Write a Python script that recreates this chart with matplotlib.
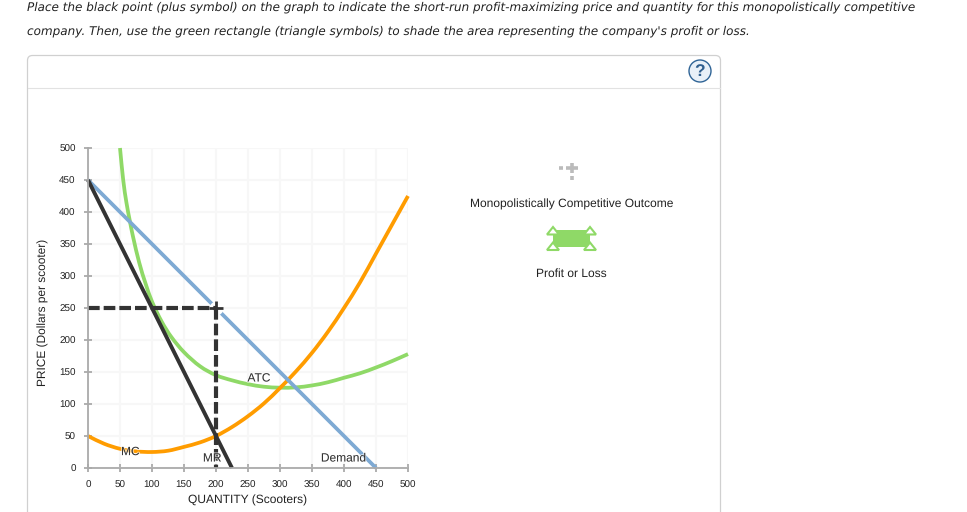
import matplotlib
matplotlib.use('Agg')
import matplotlib.pyplot as plt
import matplotlib.patheffects as pe
from matplotlib.patches import Rectangle, FancyBboxPatch, Circle, Polygon, PathPatch
from matplotlib.path import Path

W, H = 967, 512
PX = 72 / 100  # points per pixel

# values
demand_q = [0, 450]
demand_p = [450, 0]
mr_q = [0, 225]
mr_p = [450, 0]
mc_q = [0, 25, 50, 75, 100, 125, 150, 175, 200, 225, 250, 275, 300, 325, 350, 375, 400, 425, 450, 475, 500]
mc_p = [50, 38, 30, 26, 25, 27, 33, 40, 50, 64, 81, 101, 125, 151, 180, 213, 250, 290, 335, 380, 425]
atc_q = [50, 55, 60, 65, 70, 80, 90, 100, 115, 130, 150, 175, 200, 225, 250, 275, 300, 325, 350, 375, 400, 425, 450, 475, 500]
atc_p = [500, 450, 415, 388, 363, 321, 288, 260, 229, 205, 181, 159, 145, 137, 131, 127, 125.5, 126, 129, 134, 141, 148, 157, 167, 178]
price = 250
quantity = 200
ticks = list(range(0, 501, 50))

question = ["Place the black point (plus symbol) on the graph to indicate the short-run profit-maximizing price and quantity for this monopolistically competitive",
            "company. Then, use the green rectangle (triangle symbols) to shade the area representing the company's profit or loss."]


def curve(q, p):
    # bezier through the read points, so the line has no kinks
    n = len(q)
    slope = [(p[min(i + 1, n - 1)] - p[max(i - 1, 0)]) / (q[min(i + 1, n - 1)] - q[max(i - 1, 0)]) for i in range(n)]
    verts = [(q[0], p[0])]
    codes = [Path.MOVETO]
    for i in range(n - 1):
        h = (q[i + 1] - q[i]) / 3
        verts += [(q[i] + h, p[i] + slope[i] * h), (q[i + 1] - h, p[i + 1] - slope[i + 1] * h), (q[i + 1], p[i + 1])]
        codes += [Path.CURVE4] * 3
    return Path(verts, codes)


plt.rcParams['text.hinting'] = 'no_hinting'
plt.rcParams['font.family'] = ['Liberation Sans', 'DejaVu Sans']
fig = plt.figure(figsize=(W / 100, H / 100), dpi=100, facecolor='white')

# page layer in pixel coords
bg = fig.add_axes([0, 0, 1, 1])
bg.set_xlim(0, W); bg.set_ylim(H, 0); bg.set_axis_off()

bg.text(27, 7, question[0], family='DejaVu Sans', style='italic', fontsize=8.68, color='#222222', va='center')
bg.text(27, 31, question[1], family='DejaVu Sans', style='italic', fontsize=8.68, color='#222222', va='center')

# panel
bg.add_patch(FancyBboxPatch((27.5, 55.5), 693, 480, boxstyle='round,pad=0,rounding_size=5',
                            fc='white', ec='#d0d0d0', lw=0.9))
bg.plot([28, 720], [87.5, 87.5], color='#e2e2e2', lw=0.8)
bg.add_patch(Circle((700, 71), 11, fc='#e8f0f8', ec='#2f6496', lw=1))
bg.text(700, 71.5, '?', fontsize=12.5, weight='bold', color='#2f5f8f', ha='center', va='center')

# legend items
bg.text(571.5, 204, 'Monopolistically Competitive Outcome', fontsize=8.65, color='#222222', ha='center', va='center')
bg.text(571.5, 274, 'Profit or Loss', fontsize=8.65, color='#222222', ha='center', va='center')
bg.plot([572, 572], [163, 173], color='#bbbbbb', lw=2.6, solid_capstyle='butt')
bg.plot([572, 572], [176, 180], color='#bbbbbb', lw=2.6, solid_capstyle='butt')
bg.plot([566, 578], [168, 168], color='#bbbbbb', lw=2.6, solid_capstyle='butt')
bg.plot([559, 562.5], [168, 168], color='#bbbbbb', lw=2.6, solid_capstyle='butt')
bg.add_patch(Rectangle((553, 230), 37, 17, fc='#8fd967', ec='none'))
for cx, apex, base in [(553, 227, 234.5), (590, 227, 234.5), (553, 242.5, 250), (590, 242.5, 250)]:
    bg.add_patch(Polygon([(cx - 6, base), (cx + 6, base), (cx, apex)], fc='white', ec='#8fd967', lw=1.5))

# chart
ax = fig.add_axes([88 / W, 1 - 468 / H, 320 / W, 320 / H])
ax.patch.set_alpha(0)
ax.set_xlim(0, 500); ax.set_ylim(0, 500)
ax.set_xticks(ticks); ax.set_yticks(ticks)
ax.grid(True, color='#f7f7f7', lw=1.5)
ax.set_axisbelow(True)
for s in ['top', 'right']:
    ax.spines[s].set_visible(False)
for s in ['left', 'bottom']:
    ax.spines[s].set_color('#aaaaaa')
    ax.spines[s].set_linewidth(1.3)
ax.tick_params(direction='inout', length=8 * PX, width=1.3, color='#aaaaaa', labelsize=7.1, labelcolor='#222222', pad=6)

ax.plot(demand_q, demand_p, color='#7eaad4', lw=2.7, solid_capstyle='butt', clip_on=False)
ax.plot([quantity], [price], marker='o', ms=10, mew=0, color='white', clip_on=False)
ax.add_patch(PathPatch(curve(atc_q, atc_p), fc='none', ec='#8fd967', lw=2.7, capstyle='butt', clip_on=False))
ax.plot(mr_q, mr_p, color='#333333', lw=2.8, solid_capstyle='butt', clip_on=False)
ax.plot([0, quantity], [price, price], color='#333333', lw=3, ls=(0, (2.8, 0.96)), clip_on=False)
ax.plot([quantity, quantity], [price, 0], color='#333333', lw=3, ls=(0, (2.8, 0.96)), clip_on=False)
ax.add_patch(PathPatch(curve(mc_q, mc_p), fc='none', ec='#ff9c00', lw=2.7, capstyle='butt', clip_on=False))
ax.plot([quantity], [price], marker='+', ms=9.5, mew=2, color='#333333', clip_on=False)

halo = [pe.withStroke(linewidth=1.5, foreground='white', alpha=0.6)]
ax.text(66, 25, 'MC', fontsize=8.6, color='#333333', ha='center', va='center', path_effects=halo)
ax.text(194, 15, 'MR', fontsize=8.6, color='#333333', ha='center', va='center', path_effects=halo)
ax.text(399, 15, 'Demand', fontsize=8.6, color='#333333', ha='center', va='center', path_effects=halo)
ax.text(267, 140, 'ATC', fontsize=8.6, color='#333333', ha='center', va='center', path_effects=halo)

bg.text(248, 500.5, 'QUANTITY (Scooters)', fontsize=8.65, color='#222222', ha='center', va='center')
bg.text(43, 312, 'PRICE (Dollars per scooter)', fontsize=8.55, color='#222222', ha='center', va='center', rotation=90)

fig.savefig('out.png', dpi=100)
plt.close()
